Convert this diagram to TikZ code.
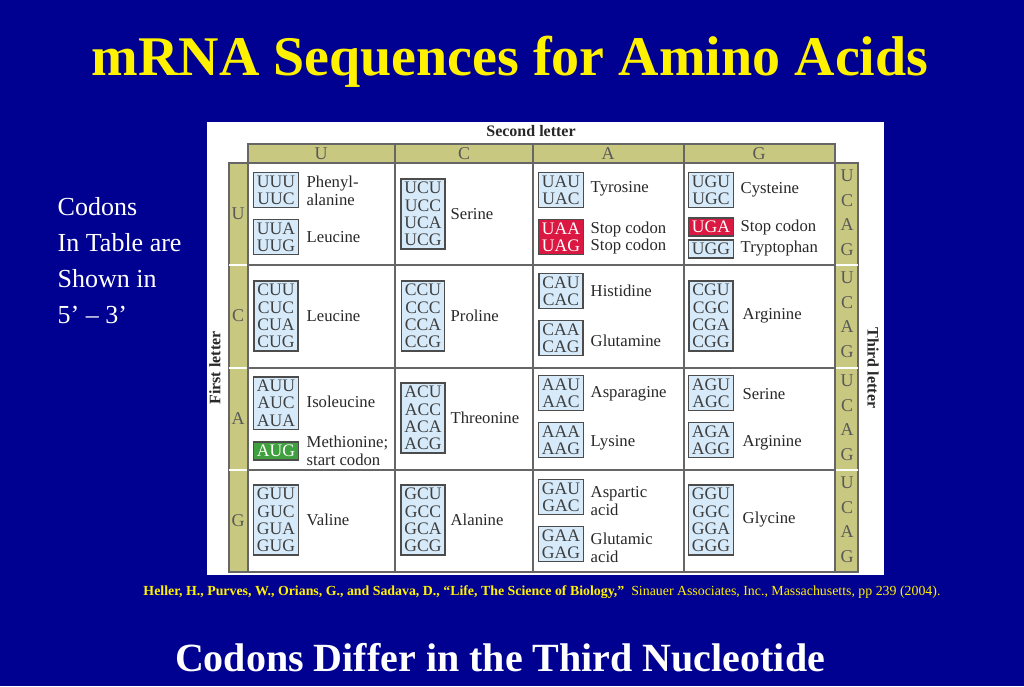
\documentclass[tikz,border=0pt]{standalone}
\usepackage{fontspec}
\setmainfont{Liberation Serif}
\definecolor{slide}{RGB}{0,0,145}
\definecolor{olive}{RGB}{200,200,128}
\definecolor{cbox}{RGB}{214,234,250}
\definecolor{stop}{RGB}{218,24,66}
\definecolor{start}{RGB}{64,160,64}
\definecolor{ttext}{RGB}{40,40,40}
\tikzset{
  codon/.style={draw=black!70, fill=cbox, line width=1pt, inner xsep=2.5pt, inner ysep=2.2pt,
    minimum width=29pt, align=center, text=black!75,
    font=\fontsize{13.2}{13}\selectfont},
  aa/.style={anchor=west, align=left, text=ttext, font=\fontsize{12.5}{13.5}\selectfont},
  letter/.style={text=black!65, font=\fontsize{13.5}{14}\selectfont},
}
\begin{document}
\begin{tikzpicture}[x=0.75pt,y=-0.75pt]
  \fill[slide] (0,0) rectangle (1024,686);
  \useasboundingbox (0,0) rectangle (1024,686);
  % titles
  \node[text=yellow, font=\bfseries\fontsize{42}{46}\selectfont] (title) at (510,62) {mRNA Sequences for Amino Acids};
  \node[text=white, font=\bfseries\fontsize{30}{34}\selectfont] (foot) at (500,658) {Codons Differ in the Third Nucleotide};
  \node[text=white, anchor=north west, align=left, font=\fontsize{19.5}{27}\selectfont] (note) at (53,193) {Codons\\In Table are\\Shown in\\5’ – 3’};
  \node[text=yellow, font=\bfseries\fontsize{10.4}{11}\selectfont] (cite) at (542,592)
    {Heller, H., Purves, W., Orians, G., and Sadava, D., “Life, The Science of Biology,”\ \ \mdseries Sinauer Associates, Inc., Massachusetts, pp 239 (2004).};
  % panel
  \fill[white] (207,122) rectangle (884,575);
  \node[font=\bfseries\fontsize{12}{13}\selectfont, text=ttext] (second) at (531,131) {Second letter};
  \node[rotate=90, font=\bfseries\fontsize{12}{13}\selectfont, text=ttext] (first) at (215,368) {First letter};
  \node[rotate=-90, font=\bfseries\fontsize{12}{13}\selectfont, text=ttext] (third) at (873,368) {Third letter};
  \fill[olive] (248,144) rectangle (835,163);
  \fill[olive] (229,163) rectangle (248,572);
  \fill[olive] (835,163) rectangle (858,572);
  \foreach \x/\l in {321/U,464/C,608/A,759/G}
    \node[letter] at (\x,154) {\l};
  \foreach \y/\l in {214/U,316/C,419/A,521/G}{
    \node[letter] at (238,\y) {\l};
    \foreach \d/\t in {13/U,38/C,62/A,87/G}
      \node[letter] at (847,\y-51+\d) {\t};
  }
  \draw[black!60, line width=0.8pt] (248,144) rectangle (835,572);
  \foreach \x in {395,533,684} \draw[black!60, line width=0.8pt] (\x,144) -- (\x,572);
  \foreach \y in {163,265,368,470} \draw[black!60, line width=0.8pt] (229,\y) -- (858,\y);
  \draw[black!60, line width=0.8pt] (229,163) rectangle (858,572);
  \foreach \y in {265,368,470} \draw[white, line width=1.5pt] (229,\y) -- (248,\y) (835,\y) -- (858,\y);
  \draw[black!60, line width=0.8pt] (248,144) -- (248,572) (835,144) -- (835,572);
  % row U
  \node[codon] (uuu) at (276,190) {UUU\\UUC};
  \node[aa] at (302,191) {Phenyl-\\alanine};
  \node[codon] (uua) at (276,237) {UUA\\UUG};
  \node[aa] at (302,237) {Leucine};
  \node[codon] (ucu) at (423,214) {UCU\\UCC\\UCA\\UCG};
  \node[aa] at (446,214) {Serine};
  \node[codon] (uau) at (561,190) {UAU\\UAC};
  \node[aa] at (586,189) {Tyrosine};
  \node[codon, fill=stop, text=white] (uaa) at (561,237) {UAA\\UAG};
  \node[aa] at (586,229) {Stop codon};
  \node[aa] at (586,246) {Stop codon};
  \node[codon] (ugu) at (711,190) {UGU\\UGC};
  \node[aa] at (736,190) {Cysteine};
  \node[codon, fill=stop, text=white] (uga) at (711,227) {UGA};
  \node[aa] at (736,227) {Stop codon};
  \node[codon] (ugg) at (711,249) {UGG};
  \node[aa] at (736,249) {Tryptophan};
  % row C
  \node[codon] (cuu) at (276,316) {CUU\\CUC\\CUA\\CUG};
  \node[aa] at (302,316) {Leucine};
  \node[codon] (ccu) at (423,316) {CCU\\CCC\\CCA\\CCG};
  \node[aa] at (446,316) {Proline};
  \node[codon] (cau) at (561,291) {CAU\\CAC};
  \node[aa] at (586,291) {Histidine};
  \node[codon] (caa) at (561,338) {CAA\\CAG};
  \node[aa] at (586,341) {Glutamine};
  \node[codon] (cgu) at (711,316) {CGU\\CGC\\CGA\\CGG};
  \node[aa] at (738,316) {Arginine};
  % row A
  \node[codon] (auu) at (276,403) {AUU\\AUC\\AUA};
  \node[aa] at (302,402) {Isoleucine};
  \node[codon, fill=start, text=white] (aug) at (276,451) {AUG};
  \node[aa] at (302,451) {Methionine;\\start codon};
  \node[codon] (acu) at (423,418) {ACU\\ACC\\ACA\\ACG};
  \node[aa] at (446,418) {Threonine};
  \node[codon] (aau) at (561,393) {AAU\\AAC};
  \node[aa] at (586,394) {Asparagine};
  \node[codon] (aaa) at (561,440) {AAA\\AAG};
  \node[aa] at (586,443) {Lysine};
  \node[codon] (agu) at (711,393) {AGU\\AGC};
  \node[aa] at (738,394) {Serine};
  \node[codon] (aga) at (711,440) {AGA\\AGG};
  \node[aa] at (738,443) {Arginine};
  % row G
  \node[codon] (guu) at (276,520) {GUU\\GUC\\GUA\\GUG};
  \node[aa] at (302,520) {Valine};
  \node[codon] (gcu) at (423,520) {GCU\\GCC\\GCA\\GCG};
  \node[aa] at (446,520) {Alanine};
  \node[codon] (gau) at (561,497) {GAU\\GAC};
  \node[aa] at (586,501) {Aspartic\\acid};
  \node[codon] (gaa) at (561,544) {GAA\\GAG};
  \node[aa] at (586,548) {Glutamic\\acid};
  \node[codon] (ggu) at (711,520) {GGU\\GGC\\GGA\\GGG};
  \node[aa] at (738,520) {Glycine};
\end{tikzpicture}
\end{document}
